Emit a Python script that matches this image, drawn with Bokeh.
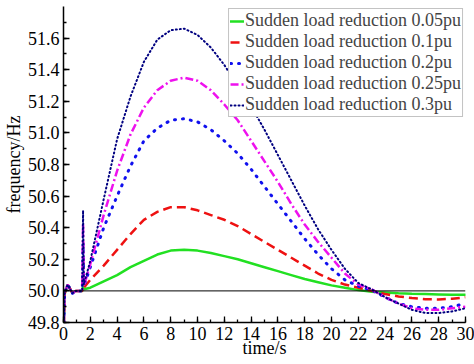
from bokeh.plotting import figure
from bokeh.models import Span, SingleIntervalTicker, PrintfTickFormatter, Range1d, Legend, LegendItem
from bokeh.embed import file_html
from bokeh.resources import INLINE

# ---- data ----
head_t = [0, 0.03, 0.08, 0.15, 0.3, 0.45, 0.67, 0.9, 1.4, 1.46, 1.52]
tail_t = list(range(2, 31))
time_s = head_t + tail_t

head_f = [50.0, 49.80, 49.98, 50.0, 50.04, 50.02, 49.985, 50.0, 50.0]

spike_005 = [50.03, 50.01]
spike_01 = [50.12, 50.02]
spike_02 = [50.30, 50.03]
spike_025 = [50.43, 50.03]
spike_03 = [50.51, 50.04]

tail_005 = [50.02, 50.06, 50.10, 50.15, 50.19, 50.23, 50.255, 50.26, 50.255, 50.24,
            50.22, 50.20, 50.175, 50.15, 50.125, 50.10, 50.075, 50.055, 50.035, 50.02,
            50.005, 49.995, 49.99, 49.985, 49.982, 49.98, 49.978, 49.976, 49.975]
tail_01 = [50.07, 50.16, 50.26, 50.36, 50.45, 50.50, 50.53, 50.53, 50.51, 50.48,
           50.45, 50.41, 50.36, 50.31, 50.26, 50.21, 50.16, 50.11, 50.07, 50.04,
           50.02, 50.00, 49.98, 49.965, 49.955, 49.947, 49.946, 49.95, 49.96]
tail_02 = [50.15, 50.40, 50.60, 50.79, 50.95, 51.03, 51.08, 51.09, 51.07, 51.02,
           50.95, 50.87, 50.77, 50.66, 50.55, 50.44, 50.33, 50.23, 50.14, 50.07,
           50.03, 50.005, 49.96, 49.92, 49.90, 49.89, 49.89, 49.90, 49.92]
tail_025 = [50.17, 50.48, 50.76, 50.99, 51.16, 51.27, 51.33, 51.35, 51.33, 51.27,
            51.18, 51.08, 50.95, 50.82, 50.69, 50.55, 50.42, 50.31, 50.21, 50.11,
            50.04, 50.01, 49.96, 49.92, 49.89, 49.88, 49.88, 49.89, 49.90]
tail_03 = [50.19, 50.58, 50.96, 51.23, 51.45, 51.59, 51.65, 51.66, 51.62, 51.54,
           51.43, 51.30, 51.17, 51.02, 50.86, 50.70, 50.54, 50.39, 50.26, 50.14,
           50.05, 50.01, 49.96, 49.92, 49.88, 49.86, 49.86, 49.87, 49.89]

labels = ["Sudden load reduction 0.05pu", "Sudden load reduction 0.1pu",
          "Sudden load reduction 0.2pu", "Sudden load reduction 0.25pu",
          "Sudden load reduction 0.3pu"]
series = [head_f + spike_005 + tail_005, head_f + spike_01 + tail_01,
          head_f + spike_02 + tail_02, head_f + spike_025 + tail_025,
          head_f + spike_03 + tail_03]

x_ticks_interval = 2
y_ticks_interval = 0.2
ref_level = 50.0

# ---- styles ----
styles = [
    dict(color="#22e022", line_width=2.5, line_dash="solid", line_cap="round"),
    dict(color="#ee1111", line_width=2.5, line_dash="9 5", line_cap="butt"),
    dict(color="#1010ee", line_width=3, line_dash="1 7", line_cap="round"),
    dict(color="#ee11ee", line_width=2.5, line_dash="8 3 2 3", line_cap="butt"),
    dict(color="#000080", line_width=2, line_dash="1 3", line_cap="round"),
]

FONT = "Liberation Serif"

p = figure(width=474, height=364, output_backend="svg", toolbar_location=None,
           x_range=Range1d(0, 30), y_range=Range1d(49.8, 51.8),
           min_border_left=61, min_border_right=9, min_border_top=6, min_border_bottom=42)
p.outline_line_color = None
p.grid.visible = False
p.background_fill_color = "white"
p.border_fill_color = "white"

p.add_layout(Span(location=ref_level, dimension="width", line_color="black", line_width=1))

items = []
for ys, lab, st in zip(series, labels, styles):
    r = p.line(time_s, ys, **st)
    items.append(LegendItem(label=lab, renderers=[r]))

legend = Legend(items=items, location="top_right", margin=2, padding=1, spacing=0,
                label_text_font=FONT, label_text_font_size="18px", label_height=21,
                glyph_width=14, glyph_height=16, label_standoff=1,
                border_line_color="#888888", border_line_width=1,
                background_fill_alpha=1.0)
p.add_layout(legend)

for ax in (p.xaxis[0], p.yaxis[0]):
    ax.axis_line_width = 1.5
    ax.axis_line_color = "black"
    ax.major_tick_in = 6
    ax.major_tick_out = 0
    ax.minor_tick_in = 3
    ax.minor_tick_out = 0
    ax.major_tick_line_width = 1.3
    ax.minor_tick_line_width = 1.3
    ax.major_label_text_font = FONT
    ax.major_label_text_font_size = "18px"
    ax.major_label_text_color = "black"
    ax.axis_label_text_font = FONT
    ax.axis_label_text_font_size = "18px"
    ax.axis_label_text_font_style = "normal"
    ax.axis_label_text_color = "black"
    ax.major_label_standoff = 4

p.xaxis.axis_label_standoff = -5
p.yaxis.axis_label_standoff = 1
p.xaxis.ticker = SingleIntervalTicker(interval=x_ticks_interval, num_minor_ticks=2)
p.yaxis.ticker = SingleIntervalTicker(interval=y_ticks_interval, num_minor_ticks=2)
p.yaxis.formatter = PrintfTickFormatter(format="%.1f")
p.xaxis.axis_label = "time/s"
p.yaxis.axis_label = "frequency/Hz"

open("out.html", "w").write(file_html(p, INLINE))
